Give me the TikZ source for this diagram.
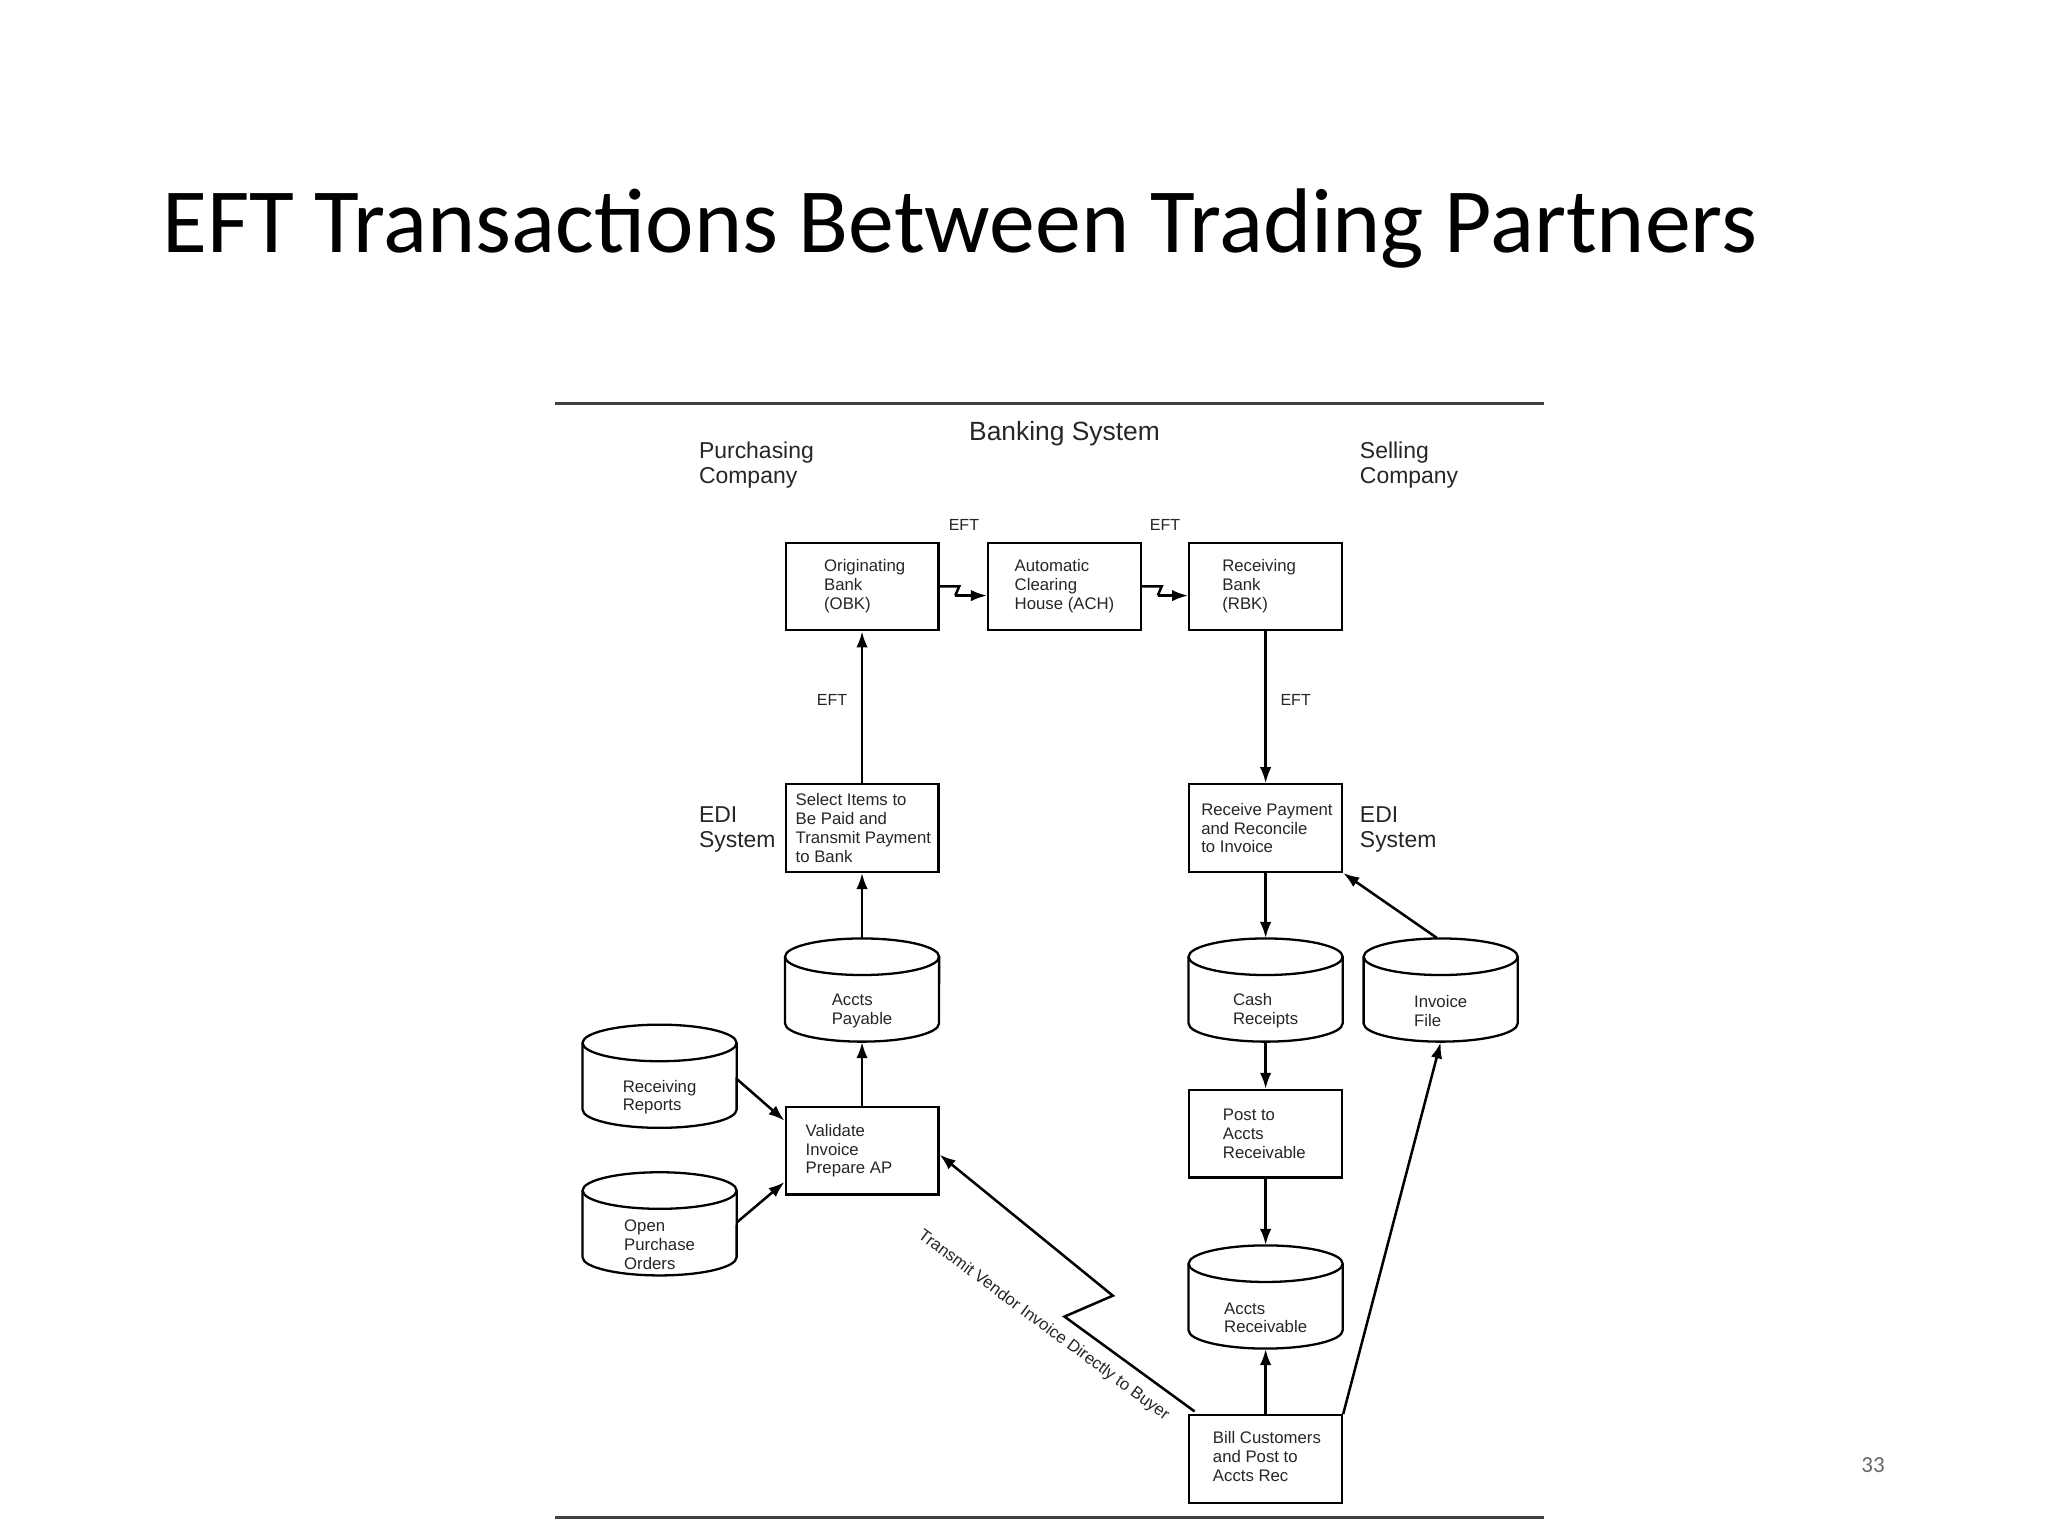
\documentclass[tikz,border=0pt]{standalone}
\usepackage{fontspec}
\setmainfont{Liberation Sans}
\newfontfamily\titlefont{Carlito}
\usetikzlibrary{arrows.meta,calc}
\tikzset{
 box/.style={draw,line width=1pt,inner sep=0,minimum width=2.34cm,minimum height=1.34cm},
 btxt/.style={font=\fontsize{7.3}{8.2}\selectfont,align=left,text=black!85},
 lbl/.style={font=\fontsize{10}{11}\selectfont,align=left,text=black!85},
 eft/.style={font=\fontsize{7}{8}\selectfont,text=black!85},
 arr/.style={line width=1.1pt,-{Latex[length=7pt,width=5pt]}},
}
\newcommand\dbcyl[4]{%
 \node[inner sep=0,minimum width=2.36cm,minimum height=1.58cm] (#1) at (#2,#3) {};
 \draw[line width=1pt,fill=white] (#2-59,#3-25.5) -- (#2-59,#3+25.5) arc[start angle=180,end angle=360,x radius=1.18cm,y radius=0.28cm] -- (#2+59,#3-25.5);
 \draw[line width=1pt] (#2,#3-25.5) ellipse[x radius=1.18cm,y radius=0.28cm];
 \node[btxt] at (#2,#3+16) {#4};}
\begin{document}
\begin{tikzpicture}[x=0.02cm,y=-0.02cm]
\fill[white] (0,0) rectangle (1568,1176);
\node[anchor=west,font=\titlefont\fontsize{40}{44}\selectfont] (title) at (118,175) {EFT Transactions Between Trading Partners};
\draw[line width=1.2pt,black!75] (425,309) -- (1182,309);
\draw[line width=1.2pt,black!75] (425,1162) -- (1182,1162);
\node[font=\fontsize{11.5}{12}\selectfont,text=black!85] (bank) at (815,332) {Banking System};
\node[lbl,anchor=west] (pc) at (529,356) {Purchasing\\Company};
\node[lbl,anchor=west] (sc) at (1035,356) {Selling\\Company};
\node[lbl,anchor=west] (edil) at (529,635) {EDI\\System};
\node[lbl,anchor=west] (edir) at (1035,635) {EDI\\System};
% boxes
\node[box] (obk) at (660,449) {}; \node[btxt] at (662,449) {Originating\\Bank\\(OBK)};
\node[box] (ach) at (815,449) {}; \node[btxt] at (815,449) {Automatic\\Clearing\\House (ACH)};
\node[box] (rbk) at (969,449) {}; \node[btxt] at (964,449) {Receiving\\Bank\\(RBK)};
\node[box] (sel) at (660,634) {}; \node[btxt] at (661,634) {Select Items to\\Be Paid and\\Transmit Payment\\to Bank};
\node[box] (rec) at (969,634) {}; \node[btxt] at (970,634) {Receive Payment\\and Reconcile\\to Invoice};
\node[box] (val) at (660,881) {}; \node[btxt] at (650,881) {Validate\\Invoice\\Prepare AP};
\node[box] (post) at (969,868) {}; \node[btxt] at (968,868) {Post to\\Accts\\Receivable};
\node[box] (bill) at (969,1117) {}; \node[btxt] at (970,1115) {Bill Customers\\and Post to\\Accts Rec};
% cylinders
\dbcyl{ap}{660}{758}{Accts\\Payable}
\dbcyl{cr}{969}{758}{Cash\\Receipts}
\dbcyl{inv}{1103}{758}{Invoice\\File}
\dbcyl{rr}{505}{824}{Receiving\\Reports}
\dbcyl{opo}{505}{937}{Open\\Purchase\\Orders}
\dbcyl{ar}{969}{993}{Accts\\Receivable}
% EFT labels
\node[eft] (e1) at (738,402) {EFT};
\node[eft] (e2) at (892,402) {EFT};
\node[eft] (e3) at (637,536) {EFT};
\node[eft] (e4) at (992,536) {EFT};
% arrows
\draw[line width=1.1pt] (obk.east) -- ++(15,0) coordinate (z1) -- ++(-3,7) coordinate (z2);
\draw[arr] (z2) -- (ach.west |- z2);
\draw[line width=1.1pt] (ach.east) -- ++(15,0) coordinate (z3) -- ++(-3,7) coordinate (z4);
\draw[arr] (z4) -- (rbk.west |- z4);
\draw[arr] (sel) -- (obk);
\draw[arr] (rbk) -- (rec);
\draw[arr] (ap.north) -- (sel.south);
\draw[arr] (val.north) -- (ap.south);
\draw[arr] (rec.south) -- (cr.north);
\draw[arr] (cr.south) -- (post.north);
\draw[arr] (post.south) -- (ar.north);
\draw[arr] (bill.north) -- (ar.south);
\draw[arr] (1100,718) -- (rec.south east);
\draw[arr] (bill.north east) -- (1103,798);
\draw[arr] (564,826) -- (val.west |- 0,858);
\draw[arr] (564,936) -- (val.west |- 0,905);
\draw[arr] (bill.north west) ++(5,-2) -- (815,1008) -- (852,992) -- (val.east |- 0,884);
\node[font=\fontsize{7.3}{8}\selectfont,text=black!85,rotate=-36.5] (tv) at (799,1015) {Transmit Vendor Invoice Directly to Buyer};
\node[font=\titlefont\fontsize{10}{12}\selectfont,text=black!60] (pg) at (1434,1122) {33};
\end{tikzpicture}
\end{document}
